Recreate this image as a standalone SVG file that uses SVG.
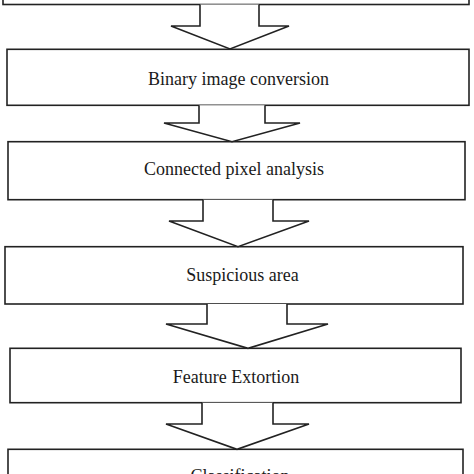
<svg xmlns="http://www.w3.org/2000/svg" width="474" height="474" viewBox="0 0 474 474">
<style>
.box{fill:#ffffff;stroke:#222222;stroke-width:1.6}
.arr{fill:#ffffff;stroke:#222222;stroke-width:1.6;stroke-linejoin:miter}
.lbl{font-family:"Liberation Serif","Times New Roman",serif;font-size:18px;fill:#1a1a1a;text-anchor:middle}
</style>
<rect width="474" height="474" fill="#ffffff"/>
<g id="node-top"><rect class="box" x="3" y="-30" width="466" height="34.5"/></g>
<g id="node-binary"><rect class="box" x="7" y="49.3" width="462" height="56"/><text class="lbl" x="238.5" y="85">Binary image conversion</text></g>
<g id="node-connected"><rect class="box" x="8" y="141.7" width="457" height="58"/><text class="lbl" x="234" y="175">Connected pixel analysis</text></g>
<g id="node-suspicious"><rect class="box" x="5" y="246.7" width="458" height="57.3"/><text class="lbl" x="242.5" y="281">Suspicious area</text></g>
<g id="node-feature"><rect class="box" x="10" y="348.3" width="451" height="54.4"/><text class="lbl" x="236" y="383">Feature Extortion</text></g>
<g id="node-classification"><rect class="box" x="8" y="449.3" width="455" height="60"/><text class="lbl" x="240" y="482">Classification</text></g>
<g id="connectors">
<polyline class="arr" points="200,4.5 200,26 171,26 230,49 289,26 259,26 259,4.5"/>
<polyline class="arr" points="199,105.3 199,123 164,123 232,141.7 300,123 265,123 265,105.3"/>
<polyline class="arr" points="203,199.7 203,221 169,221 238,246.7 309,221 273,221 273,199.7"/>
<polyline class="arr" points="207,304 207,324 166,324 248,348.3 328,324 287,324 287,304"/>
<polyline class="arr" points="202,402.7 202,424 166,424 237,449.3 309,424 273,424 273,402.7"/>
</g>
</svg>
